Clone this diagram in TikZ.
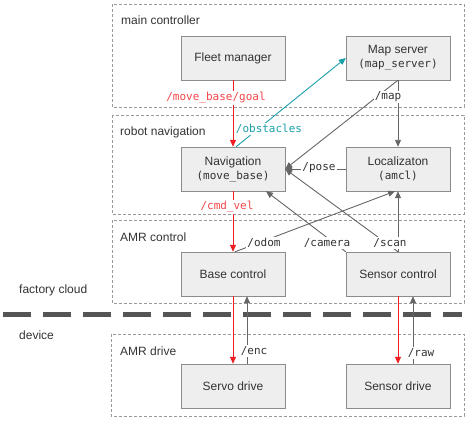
\documentclass[tikz,border=0pt]{standalone}
\usepackage{fontspec}
\setmainfont{Liberation Sans}
\setmonofont{DejaVu Sans Mono}
\usetikzlibrary{arrows.meta}
\definecolor{inkgray}{HTML}{333333}
\definecolor{boxfill}{HTML}{EEEEEE}
\definecolor{boxline}{HTML}{8C8C8C}
\definecolor{grpline}{HTML}{9A9A9A}
\definecolor{wire}{HTML}{666666}
\definecolor{goalred}{HTML}{F01E23}
\definecolor{labred}{HTML}{F5474A}
\definecolor{obsteal}{HTML}{1AA0AA}
\definecolor{cutgray}{HTML}{555555}
\newcommand{\rospkg}[1]{{\fontsize{11}{14}\selectfont\ttfamily #1}}
\begin{document}
\begin{tikzpicture}[x=1pt,y=-1pt]
  \tikzstyle{every node}=[text=inkgray,font=\fontsize{12}{14}\selectfont]
  \tikzstyle{unit}=[draw=boxline,fill=boxfill,minimum width=104pt,minimum height=44pt,align=center,inner sep=2pt]
  \tikzstyle{layer}=[draw=grpline,dash pattern=on 3pt off 2pt]
  \tikzstyle{caption}=[anchor=west,inner sep=0pt]
  \tikzstyle{topic}=[fill=white,inner sep=1pt,font=\fontsize{11}{13}\selectfont\ttfamily]
  \tikzstyle{msg}=[draw=wire,line width=0.9pt,-{Triangle[length=7pt,width=6pt]}]
  \tikzstyle{cmd}=[draw=goalred,line width=1pt,-{Triangle[length=7pt,width=6pt]}]
  \useasboundingbox (0,0) rectangle (474,428);

  \draw[layer] (112,4) rectangle (464,107);
  \draw[layer] (112,115) rectangle (464,214);
  \draw[layer] (112,220) rectangle (464,303);
  \draw[layer] (111,334) rectangle (464,416);
  \draw[cutgray,line width=5pt,dash pattern=on 28pt off 12pt] (3,314) -- (462,314);

  \node[caption] (cmain) at (121,20) {main controller};
  \node[caption] (cnav) at (120,132) {robot navigation};
  \node[caption] (cctl) at (120,237) {AMR control};
  \node[caption] (cdrv) at (120,351) {AMR drive};
  \node[caption] (ccloud) at (19,290) {factory cloud};
  \node[caption] (cdev) at (19,335) {device};

  \node[unit] (fleet) at (233,58) {Fleet manager};
  \node[unit] (mapsrv) at (398,58) {Map server\\\rospkg{(map\_server)}};
  \node[unit] (nav) at (233,169) {Navigation\\\rospkg{(move\_base)}};
  \node[unit] (loc) at (398,169) {Localizaton\\\rospkg{(amcl)}};
  \node[unit] (base) at (233,274) {Base control};
  \node[unit] (sensor) at (398,274) {Sensor control};
  \node[unit] (servo) at (233,386) {Servo drive};
  \node[unit] (sdrive) at (398,386) {Sensor drive};

  \draw[cmd] (fleet) -- (nav);
  \draw[draw=obsteal,line width=0.9pt,-{Triangle[length=7pt,width=6pt]}] ([xshift=3pt]nav.north) -- (mapsrv.west);
  \draw[msg] (mapsrv.south) -- (loc.north);
  \draw[msg] (mapsrv.south) -- (nav.east);
  \draw[msg] (loc.west) -- (nav.east);
  \draw[msg] (sensor.north) -- (nav.east);
  \draw[msg] (sensor.north) -- (loc.south);
  \draw[msg] ([xshift=2pt]base.north) -- ([xshift=-3pt]loc.south);
  \draw[msg] (sensor.north west) -- ([xshift=33pt]nav.south);
  \draw[cmd] (nav) -- (base);
  \draw[cmd] (base.south) -- (servo.north);
  \draw[msg] ([xshift=14pt]servo.north) -- ([xshift=14pt]base.south);
  \draw[cmd] (sensor.south) -- (sdrive.north);
  \draw[msg] ([xshift=15pt]sdrive.north) -- ([xshift=15pt]sensor.south);

  \node[topic,text=labred] (tgoal) at (216,98) {/move\_base/goal};
  \node[topic,text=obsteal] (tobs) at (269,129) {/obstacles};
  \node[topic] (tmap) at (388,97) {/map};
  \node[topic] (tpose) at (319,168) {/pose};
  \node[topic,text=labred] (tvel) at (227,207) {/cmd\_vel};
  \node[topic] (todom) at (264,243) {/odom};
  \node[topic] (tcam) at (327,243) {/camera};
  \node[topic] (tscan) at (390,243) {/scan};
  \node[topic] (tenc) at (254,351) {/enc};
  \node[topic] (traw) at (421,353) {/raw};
\end{tikzpicture}
\end{document}
